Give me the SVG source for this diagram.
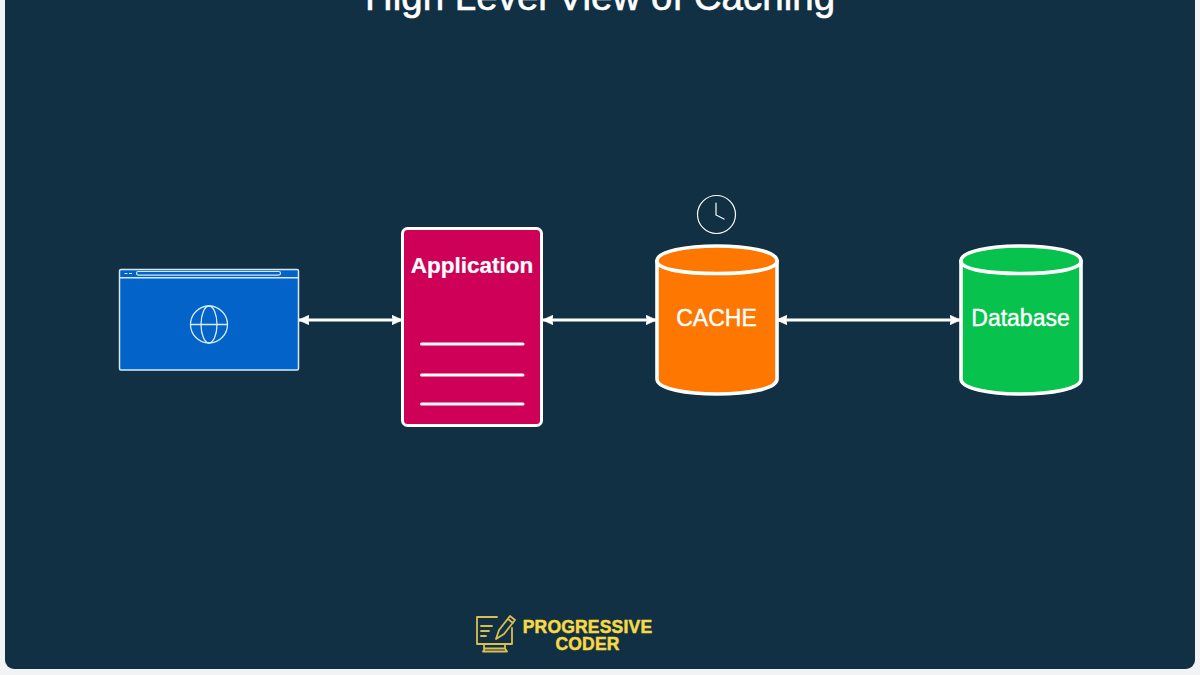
<svg xmlns="http://www.w3.org/2000/svg" width="1200" height="675" viewBox="0 0 1200 675">
<defs>
<marker id="ah" viewBox="0 0 10 10" refX="9.500" refY="5" markerWidth="11" markerHeight="11" markerUnits="userSpaceOnUse" orient="auto-start-reverse"><path d="M0 .5 L10 5 L0 9.500 L1.500 5 Z" fill="#fff" stroke="#fff" stroke-width=".6" stroke-linejoin="round"/></marker>
</defs>
<style>
text{font-family:"Liberation Sans",Arial,sans-serif;fill:#fff;text-anchor:middle}
.s{stroke:#fff;fill:none;stroke-linecap:round}
.c{stroke:#fff;stroke-width:3;fill:none;marker-start:url(#ah);marker-end:url(#ah)}
.y{stroke:#d9bf4f;fill:none;stroke-width:1.800;stroke-linecap:round;stroke-linejoin:round}
.l{fill:#f7d945;stroke:#f7d945;stroke-width:.5}
</style>
<rect width="1200" height="675" fill="#f1f3f4"/>
<rect x="5" y="-10" width="1190" height="679" rx="9" fill="#123044"/>
<text id="title" x="600" y="10" font-size="38.500" stroke="#fff" stroke-width=".6">High Level View of Caching</text>
<g id="connectors">
<path class="c" d="M299 320H402"/>
<path class="c" d="M543 320H656"/>
<path class="c" d="M777 320H960"/>
</g>
<g id="browser">
<rect x="119.500" y="269.500" width="179" height="100.500" rx="1.500" fill="#0363c9" stroke="#d5eaf8" stroke-width="1.500"/>
<path d="M120 277.800H298" stroke="#d5eaf8" stroke-width="1.400"/>
<rect x="136.500" y="271.500" width="144" height="3.600" rx="1.800" fill="none" stroke="#d5eaf8" stroke-width="1.200"/>
<path d="M124.500 273.500h3M129 273.500h3" stroke="#d5eaf8" stroke-width="1.200"/>
<g fill="none" stroke="#d8ebf8" stroke-width="1.300">
<circle cx="209" cy="324.500" r="18.500"/>
<ellipse cx="209" cy="324.500" rx="8" ry="18.500"/>
<path d="M190.500 324.500H227.500"/>
</g>
</g>
<g id="application">
<rect x="402.500" y="228.500" width="139" height="197" rx="5" fill="#cf0058" stroke="#fff" stroke-width="3"/>
<text x="472" y="273" font-size="22.500" font-weight="700" stroke="#fff" stroke-width=".2">Application</text>
<path class="s" stroke-width="3" d="M421.500 344H523M421.500 375H523M421.500 404H523"/>
</g>
<g id="clock">
<circle cx="716.500" cy="214.500" r="19" fill="none" stroke="#fff" stroke-width="1.200"/>
<path class="s" stroke-width="1.200" d="M716 203V215L724 219"/>
</g>
<g id="cache">
<path d="M657 261C657 251 687 246 717 246C747 246 777 251 777 261V379C777 389 747 394 717 394C687 394 657 389 657 379Z" fill="#fe7700" stroke="#fff" stroke-width="3.600"/>
<path class="s" stroke-width="3.600" d="M657 261C657 270 687 273.500 717 273.500C747 273.500 777 270 777 261"/>
<text x="716.500" y="325.500" font-size="23" stroke="#fff" stroke-width=".4">CACHE</text>
</g>
<g id="database">
<path d="M961 261C961 251 991 246 1021 246C1051 246 1081 251 1081 261V379C1081 389 1051 394 1021 394C991 394 961 389 961 379Z" fill="#07c24c" stroke="#fff" stroke-width="3.600"/>
<path class="s" stroke-width="3.600" d="M961 261C961 270 991 273.500 1021 273.500C1051 273.500 1081 270 1081 261"/>
<text x="1020.500" y="325.500" font-size="23" stroke="#fff" stroke-width=".4">Database</text>
</g>
<g id="logo">
<path class="y" d="M497 617H477V644H512V628M484 644V648.500M505 644V648.500M483 651.500H507L505 648.500H485ZM481 626H492M481 631H489M481 636H486"/>
<path class="y" d="M496 639L499 630L510 616L515 620L504 634ZM508 619L513 623"/>
<text class="l" x="587.500" y="632.500" font-size="17.500" font-weight="700" letter-spacing=".2">PROGRESSIVE</text>
<text class="l" x="587.500" y="649.500" font-size="17.500" font-weight="700" letter-spacing=".2">CODER</text>
</g>
</svg>
